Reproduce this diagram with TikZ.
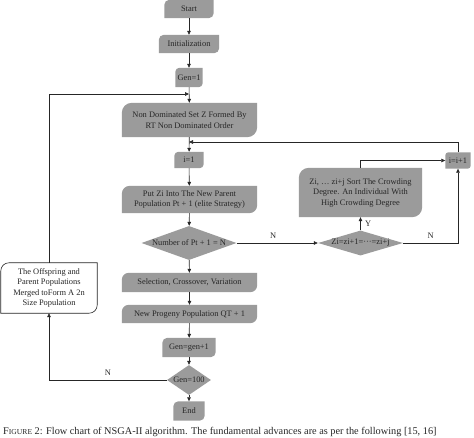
\documentclass[tikz,border=0pt]{standalone}
\usepackage{fontspec}
\setmainfont{Liberation Serif}
\usetikzlibrary{shapes.geometric,arrows.meta,backgrounds}
\definecolor{flowgray}{HTML}{9B9B9B}
\definecolor{ink}{HTML}{262626}

\begin{document}
\begin{tikzpicture}[x=1pt,y=1pt,font=\fontsize{8.4}{10.5}\selectfont,text=ink,
  blk/.style={align=center,inner sep=0pt},
  dia/.style={diamond,fill=flowgray,inner sep=0pt,align=center},
  line/.style={draw=ink,line width=0.6pt},
  arr/.style={line,-{Triangle[length=4pt,width=3.6pt]}}]
\useasboundingbox (0,0) rectangle (474,437);

% main column
\node[blk,minimum width=49,minimum height=18] (start) at (189,428) {Start};
\node[blk,minimum width=60,minimum height=18] (init) at (189,393) {Initialization};
\node[blk,minimum width=27,minimum height=19] (gen1) at (189,359.5) {Gen=1};
\node[blk,minimum width=135,minimum height=34] (nondom) at (189.5,317) {Non Dominated Set Z Formed By\\ RT Non Dominated Order};
\node[blk,minimum width=29,minimum height=16] (ione) at (189,277) {i=1};
\node[blk,minimum width=135,minimum height=27] (putzi) at (189.5,237.5) {Put Zi Into The New Parent\\ Population Pt + 1 (elite Strategy)};
\node[dia,aspect=2.8,minimum width=95,minimum height=34] (numpt) at (189,194) {Number of Pt + 1 = N};
\node[blk,minimum width=135,minimum height=19] (sel) at (189.5,154.5) {Selection, Crossover, Variation};
\node[blk,minimum width=135,minimum height=18] (prog) at (189.5,123) {New Progeny Population QT + 1};
\node[blk,minimum width=53,minimum height=19] (genup) at (189,89.5) {Gen=gen+1};
\node[dia,aspect=1.47,minimum width=44,minimum height=30] (g100) at (189,57) {Gen=100};
\node[blk,minimum width=31,minimum height=19] (stop) at (189,26) {End};

% right branch
\node[dia,aspect=3.4,minimum width=85,minimum height=25] (zeq) at (360.5,194) {Zi=zi+1=···=zi+j};
\node[blk,minimum width=123,minimum height=49] (crowd) at (360.5,244.5) {Zi, \ldots\ zi+j Sort The Crowding\\ Degree. An Individual With\\ High Crowding Degree};
\node[blk,minimum width=25,minimum height=16] (iinc) at (458,276.5) {i=i+1};

% left branch
\node[blk,minimum width=96,minimum height=50] (offspring) at (49,149) {The Offspring and\\ Parent Populations\\ Merged toForm A 2n\\ Size Population};

\coordinate (mA) at (189,343);
\coordinate (mB) at (189,295);

\begin{scope}[on background layer]
\foreach \n/\r in {start/5pt,init/5pt,gen1/4pt,nondom/10pt,ione/4pt,putzi/8pt,sel/7pt,prog/7pt,genup/5pt,stop/5pt,crowd/10pt,iinc/3pt}
  \fill[flowgray] (\n.north east) -- ([xshift=\r]\n.north west) arc[start angle=90,end angle=180,radius=\r]
    -- (\n.south west) -- ([xshift=-\r]\n.south east) arc[start angle=270,end angle=360,radius=\r] -- cycle;
\draw[line,fill=white] (offspring.north east) -- ([xshift=8pt]offspring.north west) arc[start angle=90,end angle=180,radius=8pt]
    -- (offspring.south west) -- ([xshift=-8pt]offspring.south east) arc[start angle=270,end angle=360,radius=8pt] -- cycle;
\end{scope}

\draw[arr] (start) -- (init);
\draw[arr] (init) -- (gen1);
\draw[arr] (gen1) -- (nondom);
\draw[arr] (offspring.north) |- (mA);
\draw[arr] (nondom) -- (ione);
\draw[arr] (iinc.north) |- (mB);
\draw[arr] (ione) -- (putzi);
\draw[arr] (putzi) -- (numpt);
\draw[arr] (numpt) -- (sel);
\draw[arr] (numpt) -- node[above=1pt,pos=0.45]{N} (zeq);
\draw[arr] (zeq) -- node[right=1pt]{Y} (crowd);
\draw[arr] (zeq.east) -| node[pos=0.25,above=1pt]{N} (iinc.south);
\draw[arr] (crowd.north) |- (iinc.west);
\draw[arr] (sel) -- (prog);
\draw[arr] (prog) -- (genup);
\draw[arr] (genup) -- (g100);
\draw[arr] (g100) -- (stop);
\draw[arr] (g100.west) -| node[pos=0.25,above=1pt]{N} (offspring.south);

\node[anchor=base west,inner sep=0pt,font=\fontsize{10.3}{12}\selectfont] (cap) at (3,2.6)
  {F{\fontsize{7.6}{9}\selectfont IGURE} 2: Flow chart of NSGA-II algorithm. The fundamental advances are as per the following [15, 16]};
\end{tikzpicture}
\end{document}
